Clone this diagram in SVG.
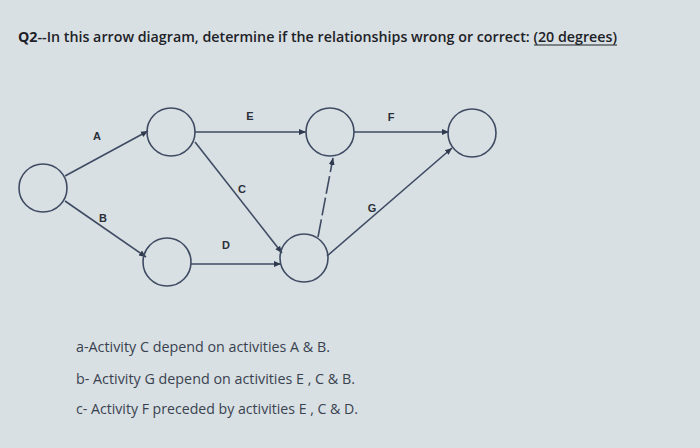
<svg xmlns="http://www.w3.org/2000/svg" width="700" height="448" viewBox="0 0 700 448">
<defs>
<marker id="ah" markerWidth="8" markerHeight="8" refX="7" refY="4" orient="auto" markerUnits="userSpaceOnUse">
<path d="M0,1 L7,4 L0,7 Z" fill="#2f3a4e"/>
</marker>
<style>
.bg{fill:#d8e0e3}
.node{fill:none;stroke:#3f4b63;stroke-width:1.6}
.edge{stroke:#3f4b63;stroke-width:1.6;fill:none;marker-end:url(#ah)}
.dash{stroke-dasharray:18 4}
.lbl{font-family:"Liberation Sans",Arial,sans-serif;font-size:11px;font-weight:bold;fill:#2a2f38;text-anchor:middle}
.title{font-family:"Open Sans","Liberation Sans",sans-serif;font-size:15px;font-weight:600;fill:#1e2228}
.q{font-family:"Open Sans","Liberation Sans",sans-serif;font-size:14px;fill:#3a4250}
</style>
</defs>
<rect class="bg" x="0" y="0" width="700" height="448"/>
<g id="title">
<text class="title" x="18" y="42" textLength="599" lengthAdjust="spacingAndGlyphs"><tspan font-weight="bold">Q2</tspan>--In this arrow diagram, determine if the relationships wrong or correct: (20 degrees)</text>
<line x1="534" y1="45" x2="617" y2="45" stroke="#1e2228" stroke-width="1.2"/>
</g>
<g id="connectors">
<line class="edge" x1="65" y1="176" x2="148" y2="131"/>
<line class="edge" x1="65" y1="201" x2="146" y2="257"/>
<line class="edge" x1="195" y1="132" x2="306" y2="132"/>
<line class="edge" x1="195" y1="142" x2="282" y2="253"/>
<line class="edge" x1="191" y1="264" x2="281" y2="264"/>
<line class="edge dash" x1="318" y1="237" x2="333" y2="158"/>
<line class="edge" x1="354" y1="132" x2="449" y2="132"/>
<line class="edge" x1="327" y1="256" x2="452" y2="148"/>
</g>
<g id="labels">
<text class="lbl" x="97" y="140">A</text>
<text class="lbl" x="103" y="222">B</text>
<text class="lbl" x="250" y="120">E</text>
<text class="lbl" x="242" y="193">C</text>
<text class="lbl" x="226" y="249">D</text>
<text class="lbl" x="391" y="121">F</text>
<text class="lbl" x="372" y="212">G</text>
</g>
<g id="n1"><circle class="node" cx="43" cy="188" r="24"/></g>
<g id="n2"><circle class="node" cx="171" cy="132" r="24"/></g>
<g id="n3"><circle class="node" cx="167" cy="262" r="24"/></g>
<g id="n4"><circle class="node" cx="330" cy="132" r="24"/></g>
<g id="n5"><circle class="node" cx="304" cy="258" r="24"/></g>
<g id="n6"><circle class="node" cx="472" cy="133" r="24"/></g>
<g id="questions">
<text class="q" x="76" y="352" textLength="254" lengthAdjust="spacingAndGlyphs">a-Activity C depend on activities A &amp; B.</text>
<text class="q" x="76" y="384" textLength="279" lengthAdjust="spacingAndGlyphs">b- Activity G depend on activities E , C &amp; B.</text>
<text class="q" x="76" y="414" textLength="282" lengthAdjust="spacingAndGlyphs">c- Activity F preceded by activities E , C &amp; D.</text>
</g>
</svg>
